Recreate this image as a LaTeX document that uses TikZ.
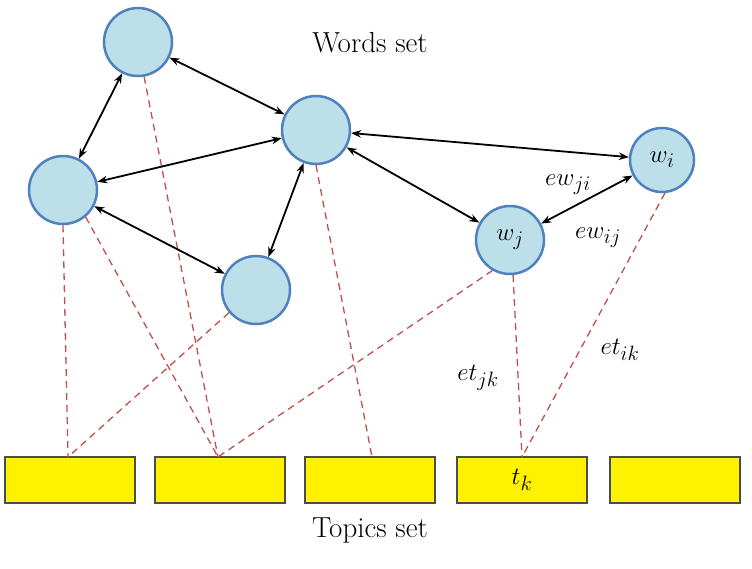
\documentclass[tikz,border=0pt]{standalone}
\usepackage{fontspec}
\usetikzlibrary{arrows.meta}
\definecolor{wfill}{HTML}{BCDFEA}
\definecolor{wdraw}{HTML}{4F81BD}
\definecolor{dsh}{HTML}{C0504D}
\begin{document}
\begin{tikzpicture}[x=1pt,y=-1pt,
 w/.style={circle,draw=wdraw,line width=2.5pt,fill=wfill,minimum size=68pt,inner sep=0pt,font=\fontsize{32}{34}\selectfont},
 t/.style={rectangle,draw=black!70,line width=1.2pt,fill=yellow,minimum width=130pt,minimum height=46pt,inner sep=0pt,font=\fontsize{32}{34}\selectfont},
 ar/.style={{Stealth[length=10pt]}-{Stealth[length=10pt]},line width=1.8pt},
 ds/.style={draw=dsh,line width=1.3pt,dash pattern=on 7pt off 5pt},
 lb/.style={font=\fontsize{32}{34}\selectfont},
 tt/.style={font=\fontsize{29}{31}\selectfont}]
\useasboundingbox (0,0) rectangle (752,568);
\node[t] (t1) at (70,480) {};
\node[t] (t2) at (220,480) {};
\node[t] (t3) at (370,480) {};
\node[t] (t4) at (522,480) {$t_k$};
\node[t] (t5) at (675,480) {};
\coordinate (p1) at (68,457);
\coordinate (p2) at (218,457);
\coordinate (p3) at (372,457);
\coordinate (p4) at (522,457);
\node[w] (A) at (138,42) {};
\node[w] (B) at (63,190) {};
\node[w] (C) at (316,130) {};
\node[w] (D) at (256,290) {};
\node[w] (E) at (510,240) {$w_j$};
\node[w,minimum size=64pt] (F) at (662,160) {$w_i$};
\draw[ds] (B.south) -- (p1);
\draw[ds] (B.-50) -- (p2);
\draw[ds] (A.-80) -- (p2);
\draw[ds] (D.-140) -- (p1);
\draw[ds] (C.-90) -- (p3);
\draw[ds] (E.-120) -- (p2);
\draw[ds] (E.-85) -- (p4);
\draw[ds] (F.-85) -- (p4);
\draw[ar] (A) -- (C);
\draw[ar] (A) -- (B);
\draw[ar] (B) -- (C);
\draw[ar] (B) -- (D);
\draw[ar] (C) -- (D);
\draw[ar] (C) -- (F);
\draw[ar] (C) -- (E);
\draw[ar] (E) -- (F);
\node[tt] (ws) at (370,43) {Words set};
\node[tt] (ts) at (370,530) {Topics set};
\node[lb] (l1) at (568,185) {$ew_{ji}$};
\node[lb] (l2) at (598,238) {$ew_{ij}$};
\node[lb] (l3) at (478,378) {$et_{jk}$};
\node[lb] (l4) at (620,350) {$et_{ik}$};
\end{tikzpicture}
\end{document}
